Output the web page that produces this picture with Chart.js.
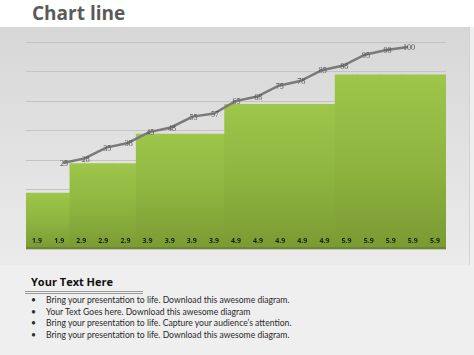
<!DOCTYPE html>
<html><head><meta charset="utf-8">
<script src="https://cdn.jsdelivr.net/npm/chart.js@4/dist/chart.umd.min.js"></script>
<style>
html,body{margin:0;padding:0;width:474px;height:355px;overflow:hidden;background:#efefef;font-family:"Open Sans",sans-serif;}
#top{position:absolute;left:0;top:0;width:474px;height:27px;background:#fff;}
#title{position:absolute;left:32px;top:0px;font:bold 19px "Open Sans",sans-serif;color:#5a5a5a;line-height:27px;}
#panel{position:absolute;left:0;top:27px;width:469px;height:238px;background:linear-gradient(#d7d7d7,#e3e3e3 60%,#ebebeb);border-right:1px solid #d2d2d2;}
#wrap{position:absolute;left:0;top:27px;width:474px;height:238px;}
#sub{position:absolute;left:31px;top:274px;font:bold 11px "Open Sans",sans-serif;color:#111;}
#rule{position:absolute;left:25px;top:291px;width:118px;height:1px;border-top:1px solid #9a9a9a;border-bottom:1px solid #9a9a9a;}
ul{position:absolute;left:0;top:295px;margin:0;padding:0;list-style:none;}
li{position:relative;padding-left:46px;font:8.6px Lato,sans-serif;color:#2a2a2a;height:11.7px;line-height:11.7px;white-space:nowrap;}
li:before{content:"•";position:absolute;left:31px;}
</style></head>
<body>
<div id="top"></div>
<div id="title">Chart line</div>
<div id="panel"></div>
<div id="wrap"><canvas id="c" width="474" height="238"></canvas></div>
<div id="sub">Your Text Here</div>
<div id="rule"></div>
<ul>
<li>Bring your presentation to life. Download this awesome diagram.</li>
<li>Your Text Goes here. Download this awesome diagram</li>
<li>Bring your presentation to life. Capture your audience’s attention.</li>
<li>Bring your presentation to life. Download this awesome diagram.</li>
</ul>
<script>
const categories = ["1.9","1.9","2.9","2.9","2.9","3.9","3.9","3.9","3.9","4.9","4.9","4.9","4.9","4.9","5.9","5.9","5.9","5.9","5.9"];
const barValues = [1.9,1.9,2.9,2.9,2.9,3.9,3.9,3.9,3.9,4.9,4.9,4.9,4.9,4.9,5.9,5.9,5.9,5.9,5.9];
const lineValues = [25,28,35,38,45,48,55,57,65,68,75,78,85,88,95,98,100];

const barLabels = {
  id:'barLabels',
  afterDatasetsDraw(chart){
    const c = chart.ctx, xs = chart.scales.x, ca = chart.chartArea;
    c.save();
    // darker baseline under the bars
    c.fillStyle = '#6d8a2a';
    c.fillRect(ca.left, ca.bottom - 2, ca.right - ca.left, 2);
    c.font = 'bold 7px "Open Sans", sans-serif';
    c.fillStyle = '#17220a';
    c.textAlign = 'center'; c.textBaseline = 'middle';
    categories.forEach((l,i)=>c.fillText(l, xs.getPixelForValue(i), ca.bottom - 8));
    const meta = chart.getDatasetMeta(1);
    c.font = '8px "Liberation Serif", serif';
    c.fillStyle = '#555';
    meta.data.forEach((p,i)=>{ c.fillText(String(lineValues[i]), p.x+1, p.y+1); });
    c.restore();
  }
};

new Chart(document.getElementById('c'), {
  type:'bar',
  data:{
    labels: categories,
    datasets:[
      {type:'bar', data: barValues, xAxisID:'x', yAxisID:'y', order:2, borderWidth:0,
       backgroundColor:(ctx)=>{
         const ch = ctx.chart, ca = ch.chartArea;
         if(!ca || ctx.raw==null) return '#8fb443';
         const yt = ch.scales.y.getPixelForValue(ctx.raw);
         const g = ch.ctx.createLinearGradient(0, yt, 0, ca.bottom);
         g.addColorStop(0,'#9dc64a'); g.addColorStop(0.5,'#8fb540'); g.addColorStop(1,'#7a9a33');
         return g;
       }},
      {type:'line', data: lineValues.map((v,i)=>({x:i+1,y:v})), xAxisID:'x2', yAxisID:'y2',
       borderColor:'#7a7a7a', borderWidth:2.5, pointRadius:0, tension:0, order:1}
    ]
  },
  options:{
    responsive:false, animation:false,
    datasets:{bar:{barPercentage:1.06, categoryPercentage:1, grouped:false}},
    layout:{padding:{left:26,right:28,top:15,bottom:16}},
    plugins:{legend:{display:false},tooltip:{enabled:false}},
    scales:{
      x:{type:'category', display:false, offset:true},
      x2:{type:'linear', display:false, offset:false, min:-0.72, max:18.76},
      y:{min:0,max:7,ticks:{display:false,stepSize:1},border:{display:false},
         grid:{color:'#c4c4c4',lineWidth:1,drawTicks:false}},
      y2:{display:false,min:-30.5,max:103.2}
    }
  },
  plugins:[barLabels]
});
</script>
</body></html>
